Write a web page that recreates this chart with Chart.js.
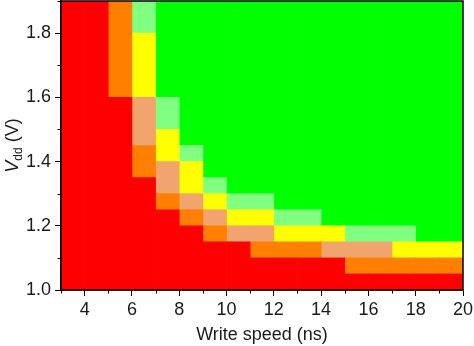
<!DOCTYPE html>
<html>
<head>
<meta charset="utf-8">
<script src="https://cdn.jsdelivr.net/npm/chart.js@4.4.1/dist/chart.umd.min.js"></script>
<style>
  html, body { margin: 0; padding: 0; background: #fff; }
  canvas { display: block; }
</style>
</head>
<body>
<canvas id="c" width="474" height="346"></canvas>
<script>
// write-speed column edges (ns) and Vdd row edges (V)
const speedEdges = [3, 4, 5, 6, 7, 8, 9, 10, 11, 12, 13, 14, 15, 16, 17, 18, 19, 20];
const vddEdges = [1.00, 1.05, 1.10, 1.15, 1.20, 1.25, 1.30, 1.35, 1.40, 1.45,
                  1.50, 1.55, 1.60, 1.65, 1.70, 1.75, 1.80, 1.85, 1.90];

// one string per Vdd row, top row (1.85-1.90) first; one digit per write-speed column
// 0 red, 1 orange, 2 salmon, 3 yellow, 4 light green, 5 green
const rows = [
  '00145555555555555',
  '00145555555555555',
  '00135555555555555',
  '00135555555555555',
  '00135555555555555',
  '00135555555555555',
  '00024555555555555',
  '00024555555555555',
  '00023555555555555',
  '00013455555555555',
  '00012355555555555',
  '00002345555555555',
  '00001234455555555',
  '00000123344555555',
  '00000012233344455',
  '00000000111222333',
  '00000000000011111',
  '00000000000000000'
];

const levelColors = ['#ff0000', '#ff8000', '#f2a46e', '#ffff00', '#80ff80', '#00ff00'];
const levelNames = ['red', 'orange', 'salmon', 'yellow', 'light green', 'green'];

const xMajor = [4, 6, 8, 10, 12, 14, 16, 18, 20];
const xMinor = [3, 5, 7, 9, 11, 13, 15, 17, 19];
const yMajor = [1.0, 1.2, 1.4, 1.6, 1.8];
const yMinor = [1.1, 1.3, 1.5, 1.7, 1.9];

/* floating bars: one dataset per colour level, one bar per vertical run in a column */
const nRows = vddEdges.length - 1;
const datasets = levelColors.map((col, lv) => ({
  label: levelNames[lv], data: [], backgroundColor: col,
  borderWidth: 0, grouped: false, barPercentage: 1, categoryPercentage: 1
}));
for (let c = 0; c < speedEdges.length - 1; c++) {
  let start = 0;
  for (let r = 1; r <= nRows; r++) {
    const lvA = +rows[nRows - 1 - start][c];
    const lvB = r < nRows ? +rows[nRows - 1 - r][c] : -1;
    if (lvB !== lvA) {
      datasets[lvA].data.push({
        x: (speedEdges[c] + speedEdges[c + 1]) / 2,
        y: [vddEdges[start], vddEdges[r]]
      });
      start = r;
    }
  }
}

const FONT = 'Liberation Sans, Arial, sans-serif';

/* minor ticks, frame and the y title with subscript */
const extras = {
  id: 'extras',
  afterDraw(chart) {
    const { ctx, chartArea: a, scales: { x, y } } = chart;
    ctx.save();
    ctx.strokeStyle = '#000';
    ctx.lineWidth = 1;
    ctx.beginPath();
    xMinor.forEach(v => {
      const px = Math.round(x.getPixelForValue(v)) + 0.5;
      ctx.moveTo(px, a.bottom); ctx.lineTo(px, a.bottom + 3.5);
    });
    yMinor.forEach(v => {
      const py = Math.round(y.getPixelForValue(v)) + 0.5;
      ctx.moveTo(a.left - 3.5, py); ctx.lineTo(a.left, py);
    });
    ctx.stroke();
    ctx.lineWidth = 1.5;
    ctx.strokeRect(a.left, a.top, a.right - a.left, a.bottom - a.top);

    // V_dd (V)
    ctx.translate(12, (a.top + a.bottom) / 2);
    ctx.rotate(-Math.PI / 2);
    ctx.fillStyle = '#1a1a1a';
    ctx.textBaseline = 'alphabetic';
    const parts = [
      { t: 'V', f: 'italic 18px ' + FONT, dy: 0 },
      { t: 'dd', f: '12px ' + FONT, dy: 4 },
      { t: ' (V)', f: '18px ' + FONT, dy: 0 }
    ];
    let w = 0;
    parts.forEach(p => { ctx.font = p.f; p.w = ctx.measureText(p.t).width; w += p.w; });
    let cx = -w / 2;
    parts.forEach(p => { ctx.font = p.f; ctx.fillText(p.t, cx, 6 + p.dy); cx += p.w; });
    ctx.restore();
  }
};

new Chart(document.getElementById('c'), {
  type: 'bar',
  data: { datasets },
  options: {
    responsive: false,
    animation: false,
    devicePixelRatio: 1,
    layout: { padding: { top: 1, right: 11, left: 0, bottom: 0 } },
    plugins: { legend: { display: false }, tooltip: { enabled: false } },
    scales: {
      x: {
        type: 'linear', min: 3, max: 20, offset: false,
        afterFit: s => { s.height = 56; s.paddingLeft = 0; s.paddingRight = 0; },
        afterBuildTicks: s => { s.ticks = xMajor.map(v => ({ value: v })); },
        grid: { display: true, drawOnChartArea: false, drawTicks: true, tickLength: 6,
                tickColor: '#000', tickWidth: 1, offset: false },
        border: { display: true, color: '#000', width: 1.5 },
        ticks: { autoSkip: false, maxRotation: 0, padding: 3, color: '#1a1a1a',
                 font: { family: FONT, size: 18 } },
        title: { display: true, text: 'Write speed (ns)', color: '#1a1a1a',
                 font: { family: FONT, size: 18 }, padding: { top: 0, bottom: 0 } }
      },
      y: {
        type: 'linear', min: 1.0, max: 1.9,
        afterFit: s => { s.width = 61; s.paddingTop = 0; s.paddingBottom = 0; },
        afterBuildTicks: s => { s.ticks = yMajor.map(v => ({ value: v })); },
        grid: { display: true, drawOnChartArea: false, drawTicks: true, tickLength: 6,
                tickColor: '#000', tickWidth: 1 },
        border: { display: true, color: '#000', width: 1.5 },
        ticks: { padding: 4, color: '#1a1a1a', callback: v => v.toFixed(1),
                 font: { family: FONT, size: 18 } }
      }
    }
  },
  plugins: [extras]
});
</script>
</body>
</html>
